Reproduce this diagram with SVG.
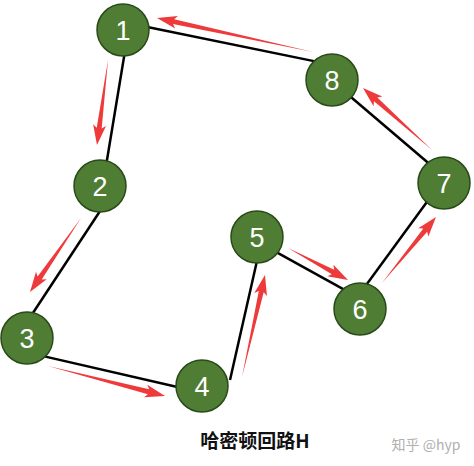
<svg xmlns="http://www.w3.org/2000/svg" width="474" height="466" viewBox="0 0 474 466">
<style>
.edge{stroke:#000;stroke-width:2.5;fill:none}
.arr{fill:#ee3a3a}
.node circle{fill:#4f7d33;stroke:#2a4a1a;stroke-width:1.5}
.node text{fill:#fff;font-family:"Liberation Sans",Arial,sans-serif;font-size:27px;text-anchor:middle}
</style>
<rect width="474" height="466" fill="#fff"/>
<g id="connectors">
<line class="edge" x1="140" y1="25.5" x2="320" y2="62.4"/>
<line class="edge" x1="126" y1="45" x2="105" y2="172"/>
<line class="edge" x1="104" y1="205" x2="27" y2="322"/>
<line class="edge" x1="40" y1="355.4" x2="185" y2="388.8"/>
<line class="edge" x1="230" y1="380" x2="259" y2="252"/>
<line class="edge" x1="270" y1="248.6" x2="350" y2="292.9"/>
<line class="edge" x1="364" y1="288" x2="432" y2="195"/>
<line class="edge" x1="345" y1="92" x2="433" y2="167"/>
</g>
<g id="arrows">
<polygon class="arr" transform="translate(157,18) rotate(-167.7)" points="0,0 -20,-6.5 -17,-2.5 -159.7,0 -17,2.5 -20,6.5"/>
<polygon class="arr" transform="translate(97,145) rotate(97.4)" points="0,0 -20,-6.5 -17,-2.5 -85.7,0 -17,2.5 -20,6.5"/>
<polygon class="arr" transform="translate(30,292) rotate(124.6)" points="0,0 -20,-6.5 -17,-2.5 -89.9,0 -17,2.5 -20,6.5"/>
<polygon class="arr" transform="translate(165,396) rotate(14.4)" points="0,0 -20,-6.5 -17,-2.5 -120.8,0 -17,2.5 -20,6.5"/>
<polygon class="arr" transform="translate(265,275) rotate(-77.3)" points="0,0 -20,-6.5 -17,-2.5 -104.6,0 -17,2.5 -20,6.5"/>
<polygon class="arr" transform="translate(348,280) rotate(28.1)" points="0,0 -20,-6.5 -17,-2.5 -68,0 -17,2.5 -20,6.5"/>
<polygon class="arr" transform="translate(436,217) rotate(-50.7)" points="0,0 -20,-6.5 -17,-2.5 -85.3,0 -17,2.5 -20,6.5"/>
<polygon class="arr" transform="translate(363,88) rotate(-138.1)" points="0,0 -20,-6.5 -17,-2.5 -92.8,0 -17,2.5 -20,6.5"/>
</g>
<g id="node1" class="node"><circle cx="123" cy="30" r="26"/><text x="123" y="39.5">1</text></g>
<g id="node2" class="node"><circle cx="100" cy="186" r="26"/><text x="100" y="195.5">2</text></g>
<g id="node3" class="node"><circle cx="27" cy="338" r="26"/><text x="27" y="347.5">3</text></g>
<g id="node4" class="node"><circle cx="202" cy="386" r="26"/><text x="202" y="395.5">4</text></g>
<g id="node5" class="node"><circle cx="257" cy="237" r="26"/><text x="257" y="246.5">5</text></g>
<g id="node6" class="node"><circle cx="360" cy="309" r="26"/><text x="360" y="318.5">6</text></g>
<g id="node7" class="node"><circle cx="444" cy="183" r="26"/><text x="444" y="192.5">7</text></g>
<g id="node8" class="node"><circle cx="332" cy="80" r="26"/><text x="332" y="89.5">8</text></g>
<text x="255" y="448" font-family="'Noto Sans CJK SC',sans-serif" font-size="19" font-weight="bold" text-anchor="middle" fill="#111">哈密顿回路H</text>
<text x="426" y="450" font-family="'Noto Sans CJK SC',sans-serif" font-size="14" text-anchor="middle" fill="#b0b0b0">知乎 @hyp</text>
</svg>
